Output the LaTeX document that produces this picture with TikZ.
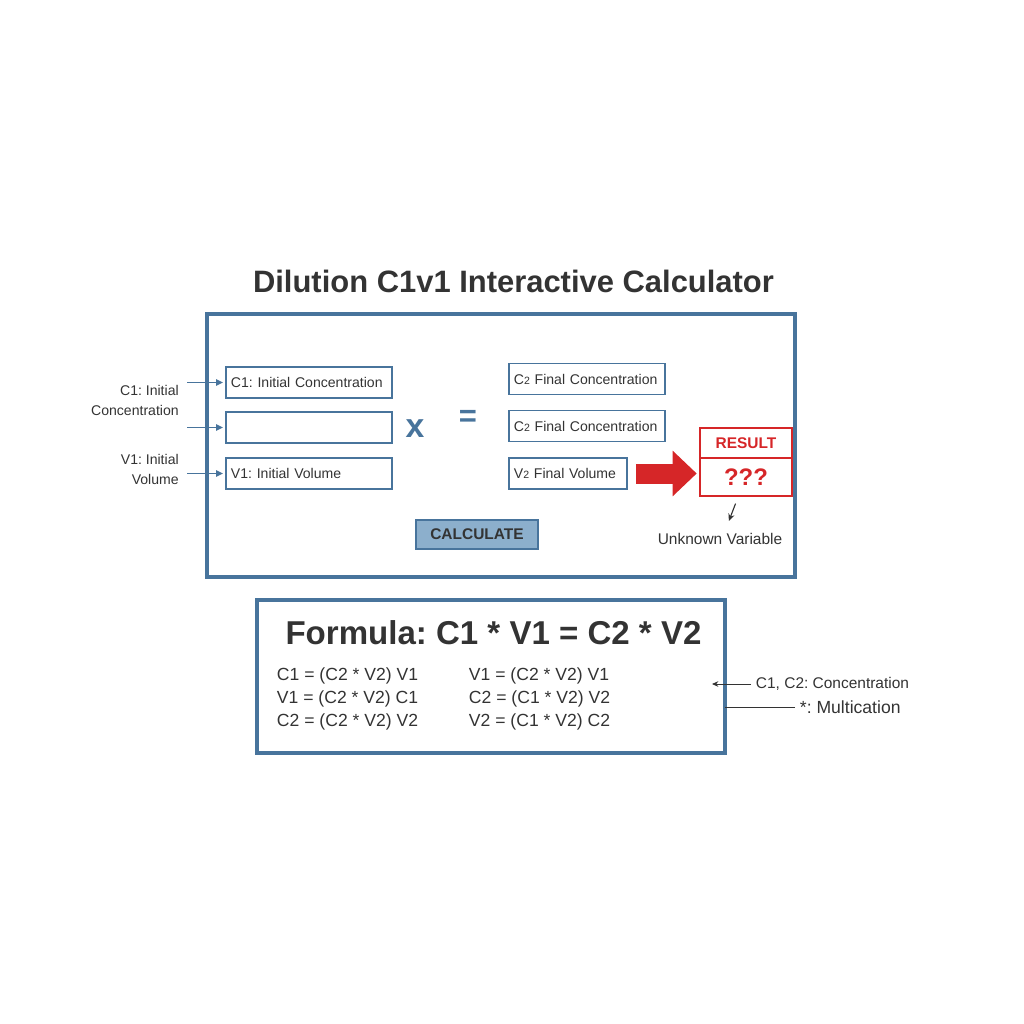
\documentclass[tikz,border=0pt]{standalone}
\usepackage{fontspec}
\setmainfont{Liberation Sans}
\usetikzlibrary{arrows.meta}
\definecolor{panelblue}{RGB}{72,116,156}
\definecolor{resultred}{RGB}{214,38,40}
\definecolor{textgray}{RGB}{51,51,51}
\definecolor{buttonfill}{RGB}{140,175,204}
\newcommand{\fs}[1]{\fontsize{#1}{1.2\dimexpr#1pt\relax}\selectfont}
\newcommand{\sub}[1]{{\fontsize{7.5}{9}\selectfont #1}}
\frenchspacing
\begin{document}
\begin{tikzpicture}[x=0.025cm, y=-0.025cm,
  panel/.style={draw=panelblue, line width=2.8pt},
  inbox/.style={draw=panelblue, line width=1.1pt, minimum height=0.775cm, inner xsep=0.125cm,
    align=left, font=\fs{10}, text=textgray},
  sidelabel/.style={anchor=east, align=right, inner sep=0pt, font=\fontsize{10}{14.2}\selectfont, text=textgray},
  inarrow/.style={panelblue, line width=1.1pt, -{Triangle[length=5pt,width=4.5pt]}, shorten >=1.5pt},
  notearrow/.style={textgray, line width=0.7pt},
  eqline/.style={anchor=west, font=\fs{12.5}, text=textgray}]
  \useasboundingbox (0,0) rectangle (1024,1024);

  % Title
  \node[font=\bfseries\fs{22}, text=textgray] (title) at (513.5,281) {Dilution C1v1 Interactive Calculator};

  % Calculator panel
  \node[panel, minimum width=14.7cm, minimum height=6.575cm] (calc) at (501,445.5) {};

  % Input fields (left)
  \node[inbox, text width=3.9cm] (c1box) at (309,382.5) {C1: Initial Concentration};
  \node[inbox, text width=3.9cm] (blankbox) at (309,427.5) {};
  \node[inbox, text width=3.9cm] (v1box) at (309,473.5) {V1: Initial Volume};

  % Side labels and input arrows
  \node[sidelabel] (c1label) at (179,400) {C1: Initial\\Concentration};
  \node[sidelabel] (v1label) at (179,469) {V1: Initial\\Volume};
  \coordinate (c1in) at (187,382.5);
  \coordinate (blankin) at (187,427.5);
  \coordinate (v1in) at (187,473.5);
  \draw[inarrow] (c1in) -- (c1box.west);
  \draw[inarrow] (blankin) -- (blankbox.west);
  \draw[inarrow] (v1in) -- (v1box.west);

  % Operators
  \node[font=\bfseries\fs{24}, text=panelblue] (times) at (415,429) {x};
  \node[font=\bfseries\fs{22}, text=panelblue] (equals) at (468,418) {=};

  % Fields (right)
  \node[inbox, text width=3.65cm] (c2box) at (587,379) {C\sub{2} Final Concentration};
  \node[inbox, text width=3.65cm] (c2boxb) at (587,426) {C\sub{2} Final Concentration};
  \node[inbox, text width=2.7cm] (v2box) at (568,473.5) {V\sub{2} Final Volume};

  % Result
  \node[draw=resultred, line width=1.8pt, minimum width=2.3cm, minimum height=0.75cm,
    font=\bfseries\fs{11}, text=resultred] (reshead) at (746,443) {RESULT};
  \node[draw=resultred, line width=1.8pt, minimum width=2.3cm, minimum height=0.95cm,
    font=\bfseries\fs{17}, text=resultred] (resbody) at (746,477) {???};
  \draw[resultred, line width=0.5cm, -{Triangle[length=0.6cm,width=1.1cm]},
    shorten <=0.2cm, shorten >=0.05cm] (v2box.east) -- (v2box.east -| resbody.west);

  % Unknown variable note
  \node[font=\fs{11}, text=textgray] (unknown) at (720,539) {Unknown Variable};
  \draw[textgray, line width=0.8pt, -{Stealth[length=5pt,width=4.5pt]}, shorten <=0.17cm, shorten >=0.2cm]
    ([xshift=-0.2cm]resbody.south) -- ([xshift=0.15cm]unknown.north);

  % Calculate button
  \node[draw=panelblue, line width=1.2pt, fill=buttonfill, minimum width=3.05cm, minimum height=0.725cm,
    font=\bfseries\fs{11}, text=textgray] (calcbtn) at (477,534.5) {CALCULATE};

  % Formula panel
  \node[panel, minimum width=11.7cm, minimum height=3.825cm] (formula) at (491,676.5) {};
  \node[font=\bfseries\fs{23.5}, text=textgray] (formulahead) at (493.5,633) {Formula: C1 * V1 = C2 * V2};
  \foreach \y/\lhs/\rhs/\n in {676/{C1 = (C2 * V2) V1}/{V1 = (C2 * V2) V1}/1,
                              699/{V1 = (C2 * V2) C1}/{C2 = (C1 * V2) V2}/2,
                              722/{C2 = (C2 * V2) V2}/{V2 = (C1 * V2) C2}/3} {
    \node[eqline] (eqL\n) at (272,\y) {\lhs};
    \node[eqline] (eqR\n) at (464,\y) {\rhs};
  }

  % Legend notes
  \node[anchor=west, font=\fs{11}, text=textgray] (concnote) at (751,684) {C1, C2: Concentration};
  \node[anchor=west, font=\fs{12.5}, text=textgray] (multnote) at (795,707) {*: Multication};
  \coordinate (concend) at (712,684);
  \coordinate (multend) at (725,707);
  \draw[notearrow, -{Stealth[length=4.5pt,width=4pt]}] (concnote.west) -- (concend);
  \draw[notearrow] (multnote.west) -- (multend);
\end{tikzpicture}
\end{document}
